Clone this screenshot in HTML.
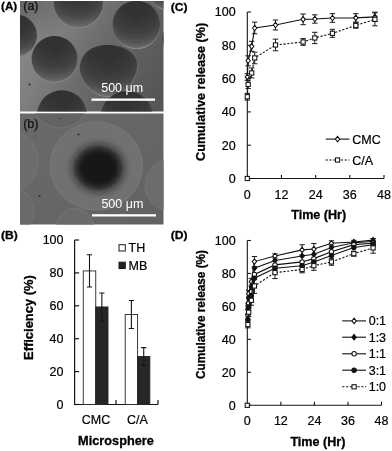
<!DOCTYPE html>
<html><head><meta charset="utf-8"><title>Figure</title>
<style>html,body{margin:0;padding:0;background:#fff}svg{display:block}svg text{font-family:"Liberation Sans",Arial,sans-serif}</style></head>
<body>
<svg width="392" height="451" viewBox="0 0 392 451">
<defs>
<filter id="b1" x="-20%" y="-20%" width="140%" height="140%"><feGaussianBlur stdDeviation="0.75"/></filter>
<filter id="b2" x="-30%" y="-30%" width="160%" height="160%"><feGaussianBlur stdDeviation="4"/></filter>
<filter id="b3" x="-20%" y="-20%" width="140%" height="140%"><feGaussianBlur stdDeviation="1.2"/></filter>
<linearGradient id="bgA" x1="0" y1="0.3" x2="1" y2="0.7">
<stop offset="0" stop-color="#8a8a8a"/><stop offset="0.25" stop-color="#7e7e7e"/><stop offset="0.5" stop-color="#6c6c6c"/><stop offset="0.75" stop-color="#606060"/><stop offset="1" stop-color="#565656"/></linearGradient>
<radialGradient id="vig" cx="0" cy="0" r="1"><stop offset="0" stop-color="#000" stop-opacity="0.3"/><stop offset="0.5" stop-color="#000" stop-opacity="0.14"/><stop offset="1" stop-color="#000" stop-opacity="0"/></radialGradient>
<linearGradient id="sphv" x1="0" y1="0" x2="0" y2="1"><stop offset="0" stop-color="#000" stop-opacity="0.28"/><stop offset="0.5" stop-color="#000" stop-opacity="0.06"/><stop offset="1" stop-color="#fff" stop-opacity="0.13"/></linearGradient>
<radialGradient id="sph" cx="0.5" cy="0.4" r="0.62">
<stop offset="0" stop-color="#393939"/><stop offset="0.6" stop-color="#414141"/><stop offset="0.85" stop-color="#4d4d4d"/><stop offset="1" stop-color="#5e5e5e"/></radialGradient>
<linearGradient id="bgB" x1="0" y1="0" x2="1" y2="1">
<stop offset="0" stop-color="#6a6a6a"/><stop offset="1" stop-color="#626262"/></linearGradient>
<radialGradient id="core" cx="0.5" cy="0.5" r="0.5">
<stop offset="0" stop-color="#171717"/><stop offset="0.45" stop-color="#1d1d1d"/><stop offset="0.8" stop-color="#3a3a3a" stop-opacity="0.85"/><stop offset="1" stop-color="#6c6c6c" stop-opacity="0"/></radialGradient>
<clipPath id="cA"><rect x="20" y="1" width="143.5" height="110.5"/></clipPath>
<clipPath id="cB"><rect x="20" y="113.6" width="143.5" height="111"/></clipPath>
</defs>
<rect width="392" height="451" fill="#fff"/>
<g clip-path="url(#cA)">
<rect x="20" y="0" width="144" height="112" fill="url(#bgA)"/>
<rect x="20" y="0" width="64" height="44" fill="url(#vig)"/>
<g filter="url(#b1)">
<circle cx="78.5" cy="3.75" r="24.6" fill="#8e8e8e"/>
<circle cx="78.4" cy="2.9" r="24.6" fill="url(#sph)"/>
<circle cx="78.4" cy="2.9" r="24.6" fill="url(#sphv)"/>
<circle cx="136.4" cy="25.450000000000003" r="23.8" fill="#8e8e8e"/>
<circle cx="136.3" cy="24.6" r="23.8" fill="url(#sph)"/>
<circle cx="136.3" cy="24.6" r="23.8" fill="url(#sphv)"/>
<circle cx="16.1" cy="36.35" r="21" fill="#8e8e8e"/>
<circle cx="16" cy="35.5" r="21" fill="url(#sph)"/>
<circle cx="16" cy="35.5" r="21" fill="url(#sphv)"/>
<circle cx="54.7" cy="59.85" r="23" fill="#8e8e8e"/>
<circle cx="54.6" cy="59" r="23" fill="url(#sph)"/>
<circle cx="54.6" cy="59" r="23" fill="url(#sphv)"/>
<path d="M79.8,68 C79.8,54 92,45 106.7,45 C122,45 137.5,52 137.3,66 C137,78 126,96.5 107.5,96.5 C95,96.5 79.8,82 79.8,68 Z" transform="translate(0.1,0.85)" fill="#8e8e8e"/>
<path d="M79.8,68 C79.8,54 92,45 106.7,45 C122,45 137.5,52 137.3,66 C137,78 126,96.5 107.5,96.5 C95,96.5 79.8,82 79.8,68 Z" fill="url(#sph)"/>
<path d="M79.8,68 C79.8,54 92,45 106.7,45 C122,45 137.5,52 137.3,66 C137,78 126,96.5 107.5,96.5 C95,96.5 79.8,82 79.8,68 Z" fill="url(#sphv)"/>
<circle cx="62.1" cy="116.14999999999999" r="25" fill="#8e8e8e"/>
<circle cx="62" cy="115.3" r="25" fill="url(#sph)"/>
<circle cx="62" cy="115.3" r="25" fill="url(#sphv)"/>
<circle cx="126.89999999999999" cy="118.14999999999999" r="26.3" fill="#8e8e8e"/>
<circle cx="126.8" cy="117.3" r="26.3" fill="url(#sph)"/>
<circle cx="126.8" cy="117.3" r="26.3" fill="url(#sphv)"/>
<circle cx="177.1" cy="39.85" r="15" fill="#8e8e8e"/>
<circle cx="177" cy="39" r="15" fill="url(#sph)"/>
<circle cx="177" cy="39" r="15" fill="url(#sphv)"/>
<circle cx="166.1" cy="-7.15" r="17" fill="#8e8e8e"/>
<circle cx="166" cy="-8" r="17" fill="url(#sph)"/>
<circle cx="166" cy="-8" r="17" fill="url(#sphv)"/>
</g>
<circle cx="29.5" cy="84.5" r="0.9" fill="#2a2a2a" filter="url(#b1)"/>
<circle cx="120" cy="71" r="0.5" fill="#2a2a2a" filter="url(#b1)"/>
<circle cx="123" cy="73" r="0.5" fill="#2a2a2a" filter="url(#b1)"/>
<circle cx="118" cy="75" r="0.4" fill="#2a2a2a" filter="url(#b1)"/>
<circle cx="125" cy="70" r="0.4" fill="#2a2a2a" filter="url(#b1)"/>
</g>
<text x="23.3" y="10.4" font-size="12.3" text-anchor="start" fill="#111" stroke="#111" stroke-width="0.25">(a)</text>
<rect x="91.5" y="98.5" width="63.5" height="2.3" fill="#fff"/>
<text x="122.2" y="92.2" font-size="12.5" text-anchor="middle" fill="#fff" >500 μm</text>
<g clip-path="url(#cB)">
<rect x="20" y="113" width="144" height="112" fill="url(#bgB)"/>
<g filter="url(#b1)">
<circle cx="60" cy="100" r="28" fill="#646464" stroke="#757575" stroke-width="0.9"/>
<circle cx="8" cy="161" r="30.5" fill="#6d6d6d" stroke="#757575" stroke-width="0.9"/>
<circle cx="10" cy="211" r="24" fill="#6b6b6b" stroke="#757575" stroke-width="0.9"/>
<circle cx="171" cy="185" r="26" fill="#6c6c6c" stroke="#757575" stroke-width="0.9"/>
<circle cx="75" cy="227" r="18.5" fill="#6b6b6b" stroke="#757575" stroke-width="0.9"/>
<ellipse cx="96.3" cy="166" rx="46.2" ry="44" fill="#717171" stroke="#7b7b7b" stroke-width="0.9"/>
</g>
<ellipse cx="98.4" cy="168" rx="24.5" ry="22.5" fill="#171717" filter="url(#b2)"/>
<circle cx="60.3" cy="118.8" r="0.8" fill="#333" filter="url(#b1)"/>
<circle cx="78.5" cy="134.5" r="1.1" fill="#333" filter="url(#b1)"/>
<circle cx="39.5" cy="196" r="1.1" fill="#333" filter="url(#b1)"/>
<circle cx="79" cy="179" r="0.7" fill="#333" filter="url(#b1)"/>
<circle cx="35" cy="136" r="0.6" fill="#333" filter="url(#b1)"/>
</g>
<text x="23.2" y="127.9" font-size="12.5" text-anchor="start" fill="#111" stroke="#111" stroke-width="0.25">(b)</text>
<rect x="92" y="214.2" width="64" height="2.3" fill="#fff"/>
<text x="122.4" y="207.8" font-size="12.5" text-anchor="middle" fill="#fff" >500 μm</text>
<text x="1" y="10.4" font-size="11.8" text-anchor="start" font-weight="bold" stroke="#000" stroke-width="0.3" fill="#000" textLength="16.2" lengthAdjust="spacingAndGlyphs" >(A)</text>
<text x="170.8" y="10.5" font-size="11.8" text-anchor="start" font-weight="bold" stroke="#000" stroke-width="0.3" fill="#000" textLength="16.8" lengthAdjust="spacingAndGlyphs" >(C)</text>
<text x="1" y="238.8" font-size="11.8" text-anchor="start" font-weight="bold" stroke="#000" stroke-width="0.3" fill="#000" textLength="16.8" lengthAdjust="spacingAndGlyphs" >(B)</text>
<text x="170.8" y="238.8" font-size="11.8" text-anchor="start" font-weight="bold" stroke="#000" stroke-width="0.3" fill="#000" textLength="16.8" lengthAdjust="spacingAndGlyphs" >(D)</text>
<path d="M74.6,240.0 V404.5 H158" stroke="#151515" stroke-width="1.2" fill="none"/>
<path d="M74.6,404.5 h4.5" stroke="#151515" stroke-width="1.2" fill="none"/>
<text x="63.5" y="408.8" font-size="12.5" text-anchor="end" stroke="#000" stroke-width="0.2" fill="#000" >0</text>
<path d="M74.6,371.6 h4.5" stroke="#151515" stroke-width="1.2" fill="none"/>
<text x="63.5" y="375.90000000000003" font-size="12.5" text-anchor="end" stroke="#000" stroke-width="0.2" fill="#000" >20</text>
<path d="M74.6,338.7 h4.5" stroke="#151515" stroke-width="1.2" fill="none"/>
<text x="63.5" y="343.0" font-size="12.5" text-anchor="end" stroke="#000" stroke-width="0.2" fill="#000" >40</text>
<path d="M74.6,305.8 h4.5" stroke="#151515" stroke-width="1.2" fill="none"/>
<text x="63.5" y="310.1" font-size="12.5" text-anchor="end" stroke="#000" stroke-width="0.2" fill="#000" >60</text>
<path d="M74.6,272.9 h4.5" stroke="#151515" stroke-width="1.2" fill="none"/>
<text x="63.5" y="277.2" font-size="12.5" text-anchor="end" stroke="#000" stroke-width="0.2" fill="#000" >80</text>
<path d="M74.6,240.0 h4.5" stroke="#151515" stroke-width="1.2" fill="none"/>
<text x="63.5" y="244.3" font-size="12.5" text-anchor="end" stroke="#000" stroke-width="0.2" fill="#000" >100</text>
<path d="M116,404.5 v-4.5" stroke="#151515" stroke-width="1.2" fill="none"/>
<path d="M158,404.5 v-4.5" stroke="#151515" stroke-width="1.2" fill="none"/>
<rect x="83.25" y="270.92600000000004" width="12.5" height="133.57399999999996" fill="#fff" stroke="#262626" stroke-width="0.9"/>
<path d="M89.5,254.805 V287.04699999999997 M86.9,254.805 h5.2 M86.9,287.04699999999997 h5.2" stroke="#161616" stroke-width="1.1" fill="none"/>
<rect x="95.75" y="306.9515" width="12.25" height="97.54849999999999" fill="#262626" stroke="#262626" stroke-width="0.9"/>
<path d="M101.875,292.969 V320.93399999999997 M99.275,292.969 h5.2 M99.275,320.93399999999997 h5.2" stroke="#161616" stroke-width="1.1" fill="none"/>
<rect x="125.2" y="314.5185" width="12.4" height="89.98149999999998" fill="#fff" stroke="#262626" stroke-width="0.9"/>
<path d="M131.4,300.536 V328.501 M128.8,300.536 h5.2 M128.8,328.501 h5.2" stroke="#161616" stroke-width="1.1" fill="none"/>
<rect x="137.6" y="356.466" width="12.25" height="48.03399999999999" fill="#262626" stroke="#262626" stroke-width="0.9"/>
<path d="M143.725,347.58299999999997 V365.349 M141.125,347.58299999999997 h5.2 M141.125,365.349 h5.2" stroke="#161616" stroke-width="1.1" fill="none"/>
<rect x="119" y="244.7" width="6.3" height="6.3" fill="#fff" stroke="#1a1a1a" stroke-width="1"/>
<text x="128.5" y="251.9" font-size="12.5" text-anchor="start" stroke="#000" stroke-width="0.2" fill="#000" >TH</text>
<rect x="119" y="262.2" width="6.3" height="6.3" fill="#222" stroke="#1a1a1a" stroke-width="1"/>
<text x="128.5" y="269.6" font-size="12.5" text-anchor="start" stroke="#000" stroke-width="0.2" fill="#000" >MB</text>
<text x="96" y="424.3" font-size="12.5" text-anchor="middle" stroke="#000" stroke-width="0.2" fill="#000" >CMC</text>
<text x="137.5" y="424.3" font-size="12.5" text-anchor="middle" stroke="#000" stroke-width="0.2" fill="#000" >C/A</text>
<text x="116" y="445" font-size="12.7" text-anchor="middle" font-weight="bold" stroke="#000" stroke-width="0.3" fill="#000" textLength="75.8" lengthAdjust="spacingAndGlyphs" >Microsphere</text>
<text transform="translate(33.4,317.6) rotate(-90)" font-size="12.7" text-anchor="middle" font-weight="bold" stroke="#000" stroke-width="0.3" textLength="84.7" lengthAdjust="spacingAndGlyphs">Efficiency (%)</text>
<path d="M247.3,12 V178.5 H384" stroke="#161616" stroke-width="1.1" fill="none"/>
<path d="M247.3,178.5 h3.6" stroke="#161616" stroke-width="1.1" fill="none"/>
<text x="235.70000000000002" y="182.9" font-size="12.5" text-anchor="end" stroke="#000" stroke-width="0.2" fill="#000" >0</text>
<path d="M247.3,145.2 h3.6" stroke="#161616" stroke-width="1.1" fill="none"/>
<text x="235.70000000000002" y="149.6" font-size="12.5" text-anchor="end" stroke="#000" stroke-width="0.2" fill="#000" >20</text>
<path d="M247.3,111.9 h3.6" stroke="#161616" stroke-width="1.1" fill="none"/>
<text x="235.70000000000002" y="116.30000000000001" font-size="12.5" text-anchor="end" stroke="#000" stroke-width="0.2" fill="#000" >40</text>
<path d="M247.3,78.6 h3.6" stroke="#161616" stroke-width="1.1" fill="none"/>
<text x="235.70000000000002" y="83.0" font-size="12.5" text-anchor="end" stroke="#000" stroke-width="0.2" fill="#000" >60</text>
<path d="M247.3,45.30000000000001 h3.6" stroke="#161616" stroke-width="1.1" fill="none"/>
<text x="235.70000000000002" y="49.70000000000001" font-size="12.5" text-anchor="end" stroke="#000" stroke-width="0.2" fill="#000" >80</text>
<path d="M247.3,12.0 h3.6" stroke="#161616" stroke-width="1.1" fill="none"/>
<text x="235.70000000000002" y="16.4" font-size="12.5" text-anchor="end" stroke="#000" stroke-width="0.2" fill="#000" >100</text>
<path d="M281.475,178.5 v-3.6" stroke="#161616" stroke-width="1.1" fill="none"/>
<path d="M315.65,178.5 v-3.6" stroke="#161616" stroke-width="1.1" fill="none"/>
<path d="M349.825,178.5 v-3.6" stroke="#161616" stroke-width="1.1" fill="none"/>
<path d="M384.0,178.5 v-3.6" stroke="#161616" stroke-width="1.1" fill="none"/>
<text x="247.3" y="198.6" font-size="12.5" text-anchor="middle" stroke="#000" stroke-width="0.2" fill="#000" >0</text>
<text x="281.475" y="198.6" font-size="12.5" text-anchor="middle" stroke="#000" stroke-width="0.2" fill="#000" >12</text>
<text x="315.65" y="198.6" font-size="12.5" text-anchor="middle" stroke="#000" stroke-width="0.2" fill="#000" >24</text>
<text x="349.825" y="198.6" font-size="12.5" text-anchor="middle" stroke="#000" stroke-width="0.2" fill="#000" >36</text>
<text x="384.0" y="198.6" font-size="12.5" text-anchor="middle" stroke="#000" stroke-width="0.2" fill="#000" >48</text>
<text x="318.7" y="218.5" font-size="12.7" text-anchor="middle" font-weight="bold" stroke="#000" stroke-width="0.3" fill="#000" textLength="55" lengthAdjust="spacingAndGlyphs" >Time (Hr)</text>
<text transform="translate(204.5,91.9) rotate(-90)" font-size="12.7" text-anchor="middle" font-weight="bold" stroke="#000" stroke-width="0.3" textLength="138" lengthAdjust="spacingAndGlyphs">Cumulative release (%)</text>
<path d="M247.30,76.94 L248.15,60.78 L251.71,46.30 L254.70,27.98 L275.49,24.99 L303.12,19.33 L314.80,18.99 L332.45,17.99 L355.81,17.83 L374.89,16.83" stroke="#111" stroke-width="1.1" fill="none"/>
<path d="M247.30,73.61 V80.27 M244.60,73.61 h5.4 M244.60,80.27 h5.4" stroke="#1a1a1a" stroke-width="1" fill="none"/>
<path d="M248.15,55.79 V65.78 M245.45,55.79 h5.4 M245.45,65.78 h5.4" stroke="#1a1a1a" stroke-width="1" fill="none"/>
<path d="M251.71,41.30 V51.29 M249.01,41.30 h5.4 M249.01,51.29 h5.4" stroke="#1a1a1a" stroke-width="1" fill="none"/>
<path d="M254.70,22.16 V33.81 M252.00,22.16 h5.4 M252.00,33.81 h5.4" stroke="#1a1a1a" stroke-width="1" fill="none"/>
<path d="M275.49,19.99 V29.98 M272.79,19.99 h5.4 M272.79,29.98 h5.4" stroke="#1a1a1a" stroke-width="1" fill="none"/>
<path d="M303.12,14.00 V24.65 M300.42,14.00 h5.4 M300.42,24.65 h5.4" stroke="#1a1a1a" stroke-width="1" fill="none"/>
<path d="M314.80,14.83 V23.16 M312.10,14.83 h5.4 M312.10,23.16 h5.4" stroke="#1a1a1a" stroke-width="1" fill="none"/>
<path d="M332.45,13.66 V22.32 M329.75,13.66 h5.4 M329.75,22.32 h5.4" stroke="#1a1a1a" stroke-width="1" fill="none"/>
<path d="M355.81,13.66 V21.99 M353.11,13.66 h5.4 M353.11,21.99 h5.4" stroke="#1a1a1a" stroke-width="1" fill="none"/>
<path d="M374.89,12.17 V21.49 M372.19,12.17 h5.4 M372.19,21.49 h5.4" stroke="#1a1a1a" stroke-width="1" fill="none"/>
<path d="M247.3,74.21 L249.45250000000001,76.94 L247.3,79.67 L245.1475,76.94 Z" fill="#fff" stroke="#111" stroke-width="1.05"/>
<path d="M248.15,58.05 L250.3025,60.78 L248.15,63.510000000000005 L245.9975,60.78 Z" fill="#fff" stroke="#111" stroke-width="1.05"/>
<path d="M251.71,43.56999999999999 L253.8625,46.3 L251.71,49.03 L249.5575,46.3 Z" fill="#fff" stroke="#111" stroke-width="1.05"/>
<path d="M254.7,25.25 L256.85249999999996,27.98 L254.7,30.71 L252.54749999999999,27.98 Z" fill="#fff" stroke="#111" stroke-width="1.05"/>
<path d="M275.49,22.259999999999998 L277.6425,24.99 L275.49,27.72 L273.33750000000003,24.99 Z" fill="#fff" stroke="#111" stroke-width="1.05"/>
<path d="M303.12,16.599999999999998 L305.2725,19.33 L303.12,22.06 L300.96750000000003,19.33 Z" fill="#fff" stroke="#111" stroke-width="1.05"/>
<path d="M314.8,16.259999999999998 L316.9525,18.99 L314.8,21.72 L312.64750000000004,18.99 Z" fill="#fff" stroke="#111" stroke-width="1.05"/>
<path d="M332.45,15.259999999999998 L334.60249999999996,17.99 L332.45,20.72 L330.2975,17.99 Z" fill="#fff" stroke="#111" stroke-width="1.05"/>
<path d="M355.81,15.099999999999998 L357.9625,17.83 L355.81,20.56 L353.6575,17.83 Z" fill="#fff" stroke="#111" stroke-width="1.05"/>
<path d="M374.89,14.099999999999998 L377.04249999999996,16.83 L374.89,19.56 L372.7375,16.83 Z" fill="#fff" stroke="#111" stroke-width="1.05"/>
<path d="M247.30,96.75 L248.15,84.43 L251.71,72.94 L254.70,57.95 L275.49,44.97 L303.12,41.97 L314.80,37.97 L332.45,33.31 L355.81,25.49 L374.89,19.33" stroke="#111" stroke-width="1.1" fill="none" stroke-dasharray="2.2,1.6"/>
<path d="M247.30,93.42 V100.08 M244.60,93.42 h5.4 M244.60,100.08 h5.4" stroke="#1a1a1a" stroke-width="1" fill="none"/>
<path d="M248.15,80.27 V88.59 M245.45,80.27 h5.4 M245.45,88.59 h5.4" stroke="#1a1a1a" stroke-width="1" fill="none"/>
<path d="M251.71,67.94 V77.93 M249.01,67.94 h5.4 M249.01,77.93 h5.4" stroke="#1a1a1a" stroke-width="1" fill="none"/>
<path d="M254.70,52.13 V63.78 M252.00,52.13 h5.4 M252.00,63.78 h5.4" stroke="#1a1a1a" stroke-width="1" fill="none"/>
<path d="M275.49,39.14 V50.79 M272.79,39.14 h5.4 M272.79,50.79 h5.4" stroke="#1a1a1a" stroke-width="1" fill="none"/>
<path d="M303.12,38.64 V45.30 M300.42,38.64 h5.4 M300.42,45.30 h5.4" stroke="#1a1a1a" stroke-width="1" fill="none"/>
<path d="M314.80,32.31 V43.63 M312.10,32.31 h5.4 M312.10,43.63 h5.4" stroke="#1a1a1a" stroke-width="1" fill="none"/>
<path d="M332.45,29.32 V37.31 M329.75,29.32 h5.4 M329.75,37.31 h5.4" stroke="#1a1a1a" stroke-width="1" fill="none"/>
<path d="M355.81,22.82 V28.15 M353.11,22.82 h5.4 M353.11,28.15 h5.4" stroke="#1a1a1a" stroke-width="1" fill="none"/>
<path d="M374.89,12.83 V25.82 M372.19,12.83 h5.4 M372.19,25.82 h5.4" stroke="#1a1a1a" stroke-width="1" fill="none"/>
<rect x="245.20000000000002" y="176.4" width="4.2" height="4.2" fill="#fff" stroke="#111" stroke-width="1.05"/>
<rect x="245.20000000000002" y="94.65" width="4.2" height="4.2" fill="#fff" stroke="#111" stroke-width="1.05"/>
<rect x="246.05" y="82.33000000000001" width="4.2" height="4.2" fill="#fff" stroke="#111" stroke-width="1.05"/>
<rect x="249.61" y="70.84" width="4.2" height="4.2" fill="#fff" stroke="#111" stroke-width="1.05"/>
<rect x="252.6" y="55.85" width="4.2" height="4.2" fill="#fff" stroke="#111" stroke-width="1.05"/>
<rect x="273.39" y="42.87" width="4.2" height="4.2" fill="#fff" stroke="#111" stroke-width="1.05"/>
<rect x="301.02" y="39.87" width="4.2" height="4.2" fill="#fff" stroke="#111" stroke-width="1.05"/>
<rect x="312.7" y="35.87" width="4.2" height="4.2" fill="#fff" stroke="#111" stroke-width="1.05"/>
<rect x="330.34999999999997" y="31.21" width="4.2" height="4.2" fill="#fff" stroke="#111" stroke-width="1.05"/>
<rect x="353.71" y="23.389999999999997" width="4.2" height="4.2" fill="#fff" stroke="#111" stroke-width="1.05"/>
<rect x="372.78999999999996" y="17.229999999999997" width="4.2" height="4.2" fill="#fff" stroke="#111" stroke-width="1.05"/>
<path d="M325.7,139.1 H349.4" stroke="#111" stroke-width="1.1"/>
<path d="M337.54999999999995,136.37 L339.70249999999993,139.1 L337.54999999999995,141.82999999999998 L335.3975,139.1 Z" fill="#fff" stroke="#111" stroke-width="1.05"/>
<text x="352.3" y="143.6" font-size="12.5" text-anchor="start" stroke="#000" stroke-width="0.2" fill="#000" >CMC</text>
<path d="M325.7,160.0 H349.4" stroke="#111" stroke-width="1.1" stroke-dasharray="2.2,1.6"/>
<rect x="335.44999999999993" y="157.9" width="4.2" height="4.2" fill="#fff" stroke="#111" stroke-width="1.05"/>
<text x="352.3" y="164.5" font-size="12.5" text-anchor="start" stroke="#000" stroke-width="0.2" fill="#000" >C/A</text>
<path d="M247.3,240.5 V405.3 H381.5" stroke="#161616" stroke-width="1.1" fill="none"/>
<path d="M247.3,405.3 h3.6" stroke="#161616" stroke-width="1.1" fill="none"/>
<text x="235.70000000000002" y="409.7" font-size="12.5" text-anchor="end" stroke="#000" stroke-width="0.2" fill="#000" >0</text>
<path d="M247.3,372.34000000000003 h3.6" stroke="#161616" stroke-width="1.1" fill="none"/>
<text x="235.70000000000002" y="376.74" font-size="12.5" text-anchor="end" stroke="#000" stroke-width="0.2" fill="#000" >20</text>
<path d="M247.3,339.38 h3.6" stroke="#161616" stroke-width="1.1" fill="none"/>
<text x="235.70000000000002" y="343.78" font-size="12.5" text-anchor="end" stroke="#000" stroke-width="0.2" fill="#000" >40</text>
<path d="M247.3,306.42 h3.6" stroke="#161616" stroke-width="1.1" fill="none"/>
<text x="235.70000000000002" y="310.82" font-size="12.5" text-anchor="end" stroke="#000" stroke-width="0.2" fill="#000" >60</text>
<path d="M247.3,273.46000000000004 h3.6" stroke="#161616" stroke-width="1.1" fill="none"/>
<text x="235.70000000000002" y="277.86" font-size="12.5" text-anchor="end" stroke="#000" stroke-width="0.2" fill="#000" >80</text>
<path d="M247.3,240.5 h3.6" stroke="#161616" stroke-width="1.1" fill="none"/>
<text x="235.70000000000002" y="244.9" font-size="12.5" text-anchor="end" stroke="#000" stroke-width="0.2" fill="#000" >100</text>
<path d="M280.85,405.3 v-3.6" stroke="#161616" stroke-width="1.1" fill="none"/>
<path d="M314.4,405.3 v-3.6" stroke="#161616" stroke-width="1.1" fill="none"/>
<path d="M347.95,405.3 v-3.6" stroke="#161616" stroke-width="1.1" fill="none"/>
<path d="M381.5,405.3 v-3.6" stroke="#161616" stroke-width="1.1" fill="none"/>
<text x="247.3" y="425" font-size="12.5" text-anchor="middle" stroke="#000" stroke-width="0.2" fill="#000" >0</text>
<text x="280.85" y="425" font-size="12.5" text-anchor="middle" stroke="#000" stroke-width="0.2" fill="#000" >12</text>
<text x="314.4" y="425" font-size="12.5" text-anchor="middle" stroke="#000" stroke-width="0.2" fill="#000" >24</text>
<text x="347.95" y="425" font-size="12.5" text-anchor="middle" stroke="#000" stroke-width="0.2" fill="#000" >36</text>
<text x="381.5" y="425" font-size="12.5" text-anchor="middle" stroke="#000" stroke-width="0.2" fill="#000" >48</text>
<text x="317.9" y="446.2" font-size="12.7" text-anchor="middle" font-weight="bold" stroke="#000" stroke-width="0.3" fill="#000" textLength="55" lengthAdjust="spacingAndGlyphs" >Time (Hr)</text>
<text transform="translate(204.5,314.5) rotate(-90)" font-size="12.2" text-anchor="middle" font-weight="bold" stroke="#000" stroke-width="0.3" textLength="129" lengthAdjust="spacingAndGlyphs">Cumulative release (%)</text>
<path d="M247.86,305.60 L248.70,293.73 L251.35,281.70 L254.43,261.59 L274.98,255.99 L302.10,249.89 L313.84,249.07 L331.45,243.30 L353.82,241.98 L373.11,240.17" stroke="#111" stroke-width="1.1" fill="none"/>
<path d="M247.86,303.12 V308.07 M245.16,303.12 h5.4 M245.16,308.07 h5.4" stroke="#1a1a1a" stroke-width="1" fill="none"/>
<path d="M248.70,290.43 V297.03 M246.00,290.43 h5.4 M246.00,297.03 h5.4" stroke="#1a1a1a" stroke-width="1" fill="none"/>
<path d="M251.35,278.40 V285.00 M248.65,278.40 h5.4 M248.65,285.00 h5.4" stroke="#1a1a1a" stroke-width="1" fill="none"/>
<path d="M254.43,256.49 V266.70 M251.73,256.49 h5.4 M251.73,266.70 h5.4" stroke="#1a1a1a" stroke-width="1" fill="none"/>
<path d="M274.98,253.85 V258.13 M272.28,253.85 h5.4 M272.28,258.13 h5.4" stroke="#1a1a1a" stroke-width="1" fill="none"/>
<path d="M302.10,244.78 V255.00 M299.40,244.78 h5.4 M299.40,255.00 h5.4" stroke="#1a1a1a" stroke-width="1" fill="none"/>
<path d="M313.84,243.47 V254.67 M311.14,243.47 h5.4 M311.14,254.67 h5.4" stroke="#1a1a1a" stroke-width="1" fill="none"/>
<path d="M331.45,240.83 V245.77 M328.75,240.83 h5.4 M328.75,245.77 h5.4" stroke="#1a1a1a" stroke-width="1" fill="none"/>
<path d="M353.82,240.34 V243.63 M351.12,240.34 h5.4 M351.12,243.63 h5.4" stroke="#1a1a1a" stroke-width="1" fill="none"/>
<path d="M373.11,238.52 V241.82 M370.41,238.52 h5.4 M370.41,241.82 h5.4" stroke="#1a1a1a" stroke-width="1" fill="none"/>
<path d="M247.86,302.87 L250.01250000000002,305.6 L247.86,308.33000000000004 L245.7075,305.6 Z" fill="#fff" stroke="#111" stroke-width="1.05"/>
<path d="M248.7,291.0 L250.8525,293.73 L248.7,296.46000000000004 L246.54749999999999,293.73 Z" fill="#fff" stroke="#111" stroke-width="1.05"/>
<path d="M251.35,278.96999999999997 L253.5025,281.7 L251.35,284.43 L249.1975,281.7 Z" fill="#fff" stroke="#111" stroke-width="1.05"/>
<path d="M254.43,258.85999999999996 L256.5825,261.59 L254.43,264.32 L252.2775,261.59 Z" fill="#fff" stroke="#111" stroke-width="1.05"/>
<path d="M274.98,253.26000000000002 L277.1325,255.99 L274.98,258.72 L272.82750000000004,255.99 Z" fill="#fff" stroke="#111" stroke-width="1.05"/>
<path d="M302.1,247.16 L304.2525,249.89 L302.1,252.61999999999998 L299.94750000000005,249.89 Z" fill="#fff" stroke="#111" stroke-width="1.05"/>
<path d="M313.84,246.34 L315.99249999999995,249.07 L313.84,251.79999999999998 L311.6875,249.07 Z" fill="#fff" stroke="#111" stroke-width="1.05"/>
<path d="M331.45,240.57000000000002 L333.60249999999996,243.3 L331.45,246.03 L329.2975,243.3 Z" fill="#fff" stroke="#111" stroke-width="1.05"/>
<path d="M353.82,239.25 L355.97249999999997,241.98 L353.82,244.70999999999998 L351.6675,241.98 Z" fill="#fff" stroke="#111" stroke-width="1.05"/>
<path d="M373.11,237.44 L375.2625,240.17 L373.11,242.89999999999998 L370.95750000000004,240.17 Z" fill="#fff" stroke="#111" stroke-width="1.05"/>
<path d="M247.86,309.72 L248.70,298.18 L251.35,286.64 L254.43,268.19 L274.98,260.44 L302.10,255.99 L313.84,254.18 L331.45,247.42 L353.82,242.81 L373.11,241.49" stroke="#111" stroke-width="1.1" fill="none"/>
<path d="M247.86,306.99 L250.01250000000002,309.72 L247.86,312.45000000000005 L245.7075,309.72 Z" fill="#111" stroke="#111" stroke-width="1.05"/>
<path d="M248.7,295.45 L250.8525,298.18 L248.7,300.91 L246.54749999999999,298.18 Z" fill="#111" stroke="#111" stroke-width="1.05"/>
<path d="M251.35,283.90999999999997 L253.5025,286.64 L251.35,289.37 L249.1975,286.64 Z" fill="#111" stroke="#111" stroke-width="1.05"/>
<path d="M254.43,265.46 L256.5825,268.19 L254.43,270.92 L252.2775,268.19 Z" fill="#111" stroke="#111" stroke-width="1.05"/>
<path d="M274.98,257.71 L277.1325,260.44 L274.98,263.17 L272.82750000000004,260.44 Z" fill="#111" stroke="#111" stroke-width="1.05"/>
<path d="M302.1,253.26000000000002 L304.2525,255.99 L302.1,258.72 L299.94750000000005,255.99 Z" fill="#111" stroke="#111" stroke-width="1.05"/>
<path d="M313.84,251.45000000000002 L315.99249999999995,254.18 L313.84,256.91 L311.6875,254.18 Z" fill="#111" stroke="#111" stroke-width="1.05"/>
<path d="M331.45,244.69 L333.60249999999996,247.42 L331.45,250.14999999999998 L329.2975,247.42 Z" fill="#111" stroke="#111" stroke-width="1.05"/>
<path d="M353.82,240.08 L355.97249999999997,242.81 L353.82,245.54 L351.6675,242.81 Z" fill="#111" stroke="#111" stroke-width="1.05"/>
<path d="M373.11,238.76000000000002 L375.2625,241.49 L373.11,244.22 L370.95750000000004,241.49 Z" fill="#111" stroke="#111" stroke-width="1.05"/>
<path d="M247.86,314.66 L248.70,303.12 L251.35,291.59 L254.43,274.45 L274.98,264.89 L302.10,261.92 L313.84,258.63 L331.45,251.71 L353.82,244.62 L373.11,243.30" stroke="#111" stroke-width="1.1" fill="none"/>
<circle cx="247.86" cy="314.66" r="2.205" fill="#fff" stroke="#111" stroke-width="1.05"/>
<circle cx="248.7" cy="303.12" r="2.205" fill="#fff" stroke="#111" stroke-width="1.05"/>
<circle cx="251.35" cy="291.59" r="2.205" fill="#fff" stroke="#111" stroke-width="1.05"/>
<circle cx="254.43" cy="274.45" r="2.205" fill="#fff" stroke="#111" stroke-width="1.05"/>
<circle cx="274.98" cy="264.89" r="2.205" fill="#fff" stroke="#111" stroke-width="1.05"/>
<circle cx="302.1" cy="261.92" r="2.205" fill="#fff" stroke="#111" stroke-width="1.05"/>
<circle cx="313.84" cy="258.63" r="2.205" fill="#fff" stroke="#111" stroke-width="1.05"/>
<circle cx="331.45" cy="251.71" r="2.205" fill="#fff" stroke="#111" stroke-width="1.05"/>
<circle cx="353.82" cy="244.62" r="2.205" fill="#fff" stroke="#111" stroke-width="1.05"/>
<circle cx="373.11" cy="243.3" r="2.205" fill="#fff" stroke="#111" stroke-width="1.05"/>
<path d="M247.86,319.60 L248.70,307.24 L251.35,295.71 L254.43,278.24 L274.98,268.19 L302.10,265.71 L313.84,261.92 L331.45,255.50 L353.82,247.42 L373.11,244.78" stroke="#111" stroke-width="1.1" fill="none"/>
<circle cx="247.86" cy="319.6" r="2.205" fill="#111" stroke="#111" stroke-width="1.05"/>
<circle cx="248.7" cy="307.24" r="2.205" fill="#111" stroke="#111" stroke-width="1.05"/>
<circle cx="251.35" cy="295.71" r="2.205" fill="#111" stroke="#111" stroke-width="1.05"/>
<circle cx="254.43" cy="278.24" r="2.205" fill="#111" stroke="#111" stroke-width="1.05"/>
<circle cx="274.98" cy="268.19" r="2.205" fill="#111" stroke="#111" stroke-width="1.05"/>
<circle cx="302.1" cy="265.71" r="2.205" fill="#111" stroke="#111" stroke-width="1.05"/>
<circle cx="313.84" cy="261.92" r="2.205" fill="#111" stroke="#111" stroke-width="1.05"/>
<circle cx="331.45" cy="255.5" r="2.205" fill="#111" stroke="#111" stroke-width="1.05"/>
<circle cx="353.82" cy="247.42" r="2.205" fill="#111" stroke="#111" stroke-width="1.05"/>
<circle cx="373.11" cy="244.78" r="2.205" fill="#111" stroke="#111" stroke-width="1.05"/>
<path d="M247.86,324.55 L248.70,312.19 L251.35,300.32 L254.43,285.98 L274.98,272.64 L302.10,269.50 L313.84,265.71 L331.45,261.92 L353.82,253.68 L373.11,247.92" stroke="#111" stroke-width="1.1" fill="none" stroke-dasharray="2.2,1.6"/>
<path d="M247.86,321.25 V327.84 M245.16,321.25 h5.4 M245.16,327.84 h5.4" stroke="#1a1a1a" stroke-width="1" fill="none"/>
<path d="M248.70,308.07 V316.31 M246.00,308.07 h5.4 M246.00,316.31 h5.4" stroke="#1a1a1a" stroke-width="1" fill="none"/>
<path d="M251.35,295.38 V305.27 M248.65,295.38 h5.4 M248.65,305.27 h5.4" stroke="#1a1a1a" stroke-width="1" fill="none"/>
<path d="M254.43,278.57 V293.40 M251.73,278.57 h5.4 M251.73,293.40 h5.4" stroke="#1a1a1a" stroke-width="1" fill="none"/>
<path d="M274.98,266.70 V278.57 M272.28,266.70 h5.4 M272.28,278.57 h5.4" stroke="#1a1a1a" stroke-width="1" fill="none"/>
<path d="M302.10,266.21 V272.80 M299.40,266.21 h5.4 M299.40,272.80 h5.4" stroke="#1a1a1a" stroke-width="1" fill="none"/>
<path d="M313.84,261.10 V270.33 M311.14,261.10 h5.4 M311.14,270.33 h5.4" stroke="#1a1a1a" stroke-width="1" fill="none"/>
<path d="M331.45,258.63 V265.22 M328.75,258.63 h5.4 M328.75,265.22 h5.4" stroke="#1a1a1a" stroke-width="1" fill="none"/>
<path d="M353.82,251.21 V256.16 M351.12,251.21 h5.4 M351.12,256.16 h5.4" stroke="#1a1a1a" stroke-width="1" fill="none"/>
<path d="M373.11,242.64 V253.19 M370.41,242.64 h5.4 M370.41,253.19 h5.4" stroke="#1a1a1a" stroke-width="1" fill="none"/>
<rect x="245.20000000000002" y="403.2" width="4.2" height="4.2" fill="#fff" stroke="#111" stroke-width="1.05"/>
<rect x="245.76000000000002" y="322.45" width="4.2" height="4.2" fill="#fff" stroke="#111" stroke-width="1.05"/>
<rect x="246.6" y="310.09" width="4.2" height="4.2" fill="#fff" stroke="#111" stroke-width="1.05"/>
<rect x="249.25" y="298.21999999999997" width="4.2" height="4.2" fill="#fff" stroke="#111" stroke-width="1.05"/>
<rect x="252.33" y="283.88" width="4.2" height="4.2" fill="#fff" stroke="#111" stroke-width="1.05"/>
<rect x="272.88" y="270.53999999999996" width="4.2" height="4.2" fill="#fff" stroke="#111" stroke-width="1.05"/>
<rect x="300.0" y="267.4" width="4.2" height="4.2" fill="#fff" stroke="#111" stroke-width="1.05"/>
<rect x="311.73999999999995" y="263.60999999999996" width="4.2" height="4.2" fill="#fff" stroke="#111" stroke-width="1.05"/>
<rect x="329.34999999999997" y="259.82" width="4.2" height="4.2" fill="#fff" stroke="#111" stroke-width="1.05"/>
<rect x="351.71999999999997" y="251.58" width="4.2" height="4.2" fill="#fff" stroke="#111" stroke-width="1.05"/>
<rect x="371.01" y="245.82" width="4.2" height="4.2" fill="#fff" stroke="#111" stroke-width="1.05"/>
<path d="M342.2,320.9 H366" stroke="#111" stroke-width="1.1"/>
<path d="M354.1,318.16999999999996 L356.2525,320.9 L354.1,323.63 L351.94750000000005,320.9 Z" fill="#fff" stroke="#111" stroke-width="1.05"/>
<text x="368.7" y="325.4" font-size="12.5" text-anchor="start" stroke="#000" stroke-width="0.2" fill="#000" >0:1</text>
<path d="M342.2,337.2 H366" stroke="#111" stroke-width="1.1"/>
<path d="M354.1,334.46999999999997 L356.2525,337.2 L354.1,339.93 L351.94750000000005,337.2 Z" fill="#111" stroke="#111" stroke-width="1.05"/>
<text x="368.7" y="341.7" font-size="12.5" text-anchor="start" stroke="#000" stroke-width="0.2" fill="#000" >1:3</text>
<path d="M342.2,353.8 H366" stroke="#111" stroke-width="1.1"/>
<circle cx="354.1" cy="353.8" r="2.205" fill="#fff" stroke="#111" stroke-width="1.05"/>
<text x="368.7" y="358.3" font-size="12.5" text-anchor="start" stroke="#000" stroke-width="0.2" fill="#000" >1:1</text>
<path d="M342.2,370.2 H366" stroke="#111" stroke-width="1.1"/>
<circle cx="354.1" cy="370.2" r="2.205" fill="#111" stroke="#111" stroke-width="1.05"/>
<text x="368.7" y="374.7" font-size="12.5" text-anchor="start" stroke="#000" stroke-width="0.2" fill="#000" >3:1</text>
<path d="M342.2,386.8 H366" stroke="#111" stroke-width="1.1" stroke-dasharray="2.2,1.6"/>
<rect x="352.0" y="384.7" width="4.2" height="4.2" fill="#fff" stroke="#111" stroke-width="1.05"/>
<text x="368.7" y="391.3" font-size="12.5" text-anchor="start" stroke="#000" stroke-width="0.2" fill="#000" >1:0</text>
</svg>
</body></html>
